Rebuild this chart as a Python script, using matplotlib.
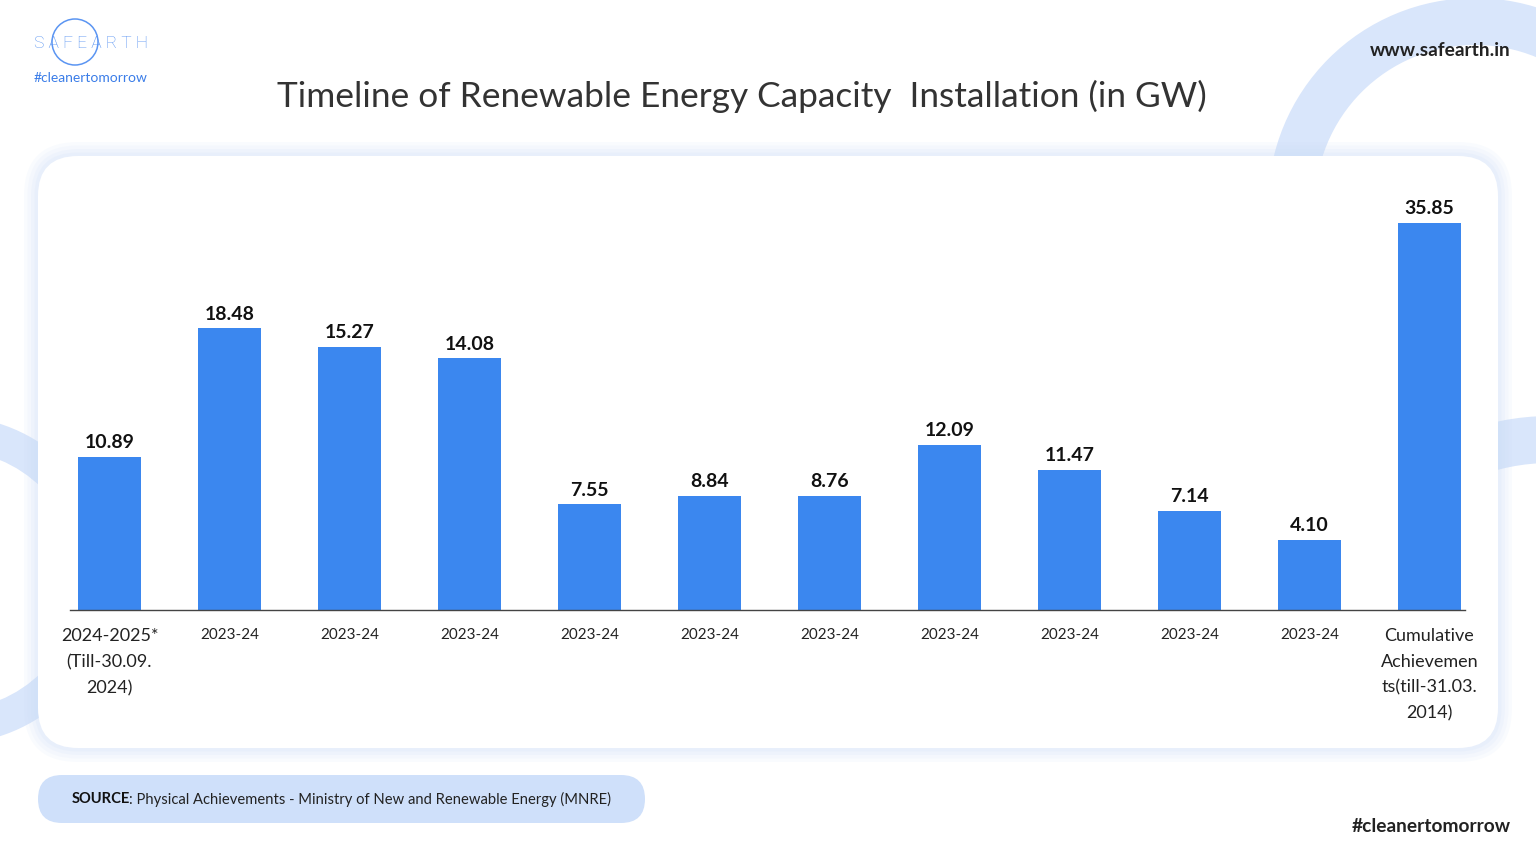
import matplotlib
matplotlib.use("Agg")
import matplotlib.pyplot as plt
from matplotlib.patches import FancyBboxPatch, Wedge, Circle

plt.rcParams['font.family'] = ['Lato', 'DejaVu Sans']

# data
categories = ["2024-2025*\n(Till-30.09.\n2024)", "2023-24", "2023-24", "2023-24", "2023-24",
              "2023-24", "2023-24", "2023-24", "2023-24", "2023-24", "2023-24",
              "Cumulative\nAchievemen\nts(till-31.03.\n2014)"]
value_labels = ["10.89", "18.48", "15.27", "14.08", "7.55", "8.84", "8.76",
                "12.09", "11.47", "7.14", "4.10", "35.85"]
# the bars in the source are not drawn to the printed values,
# so these are the heights as measured (in the same GW scale as the last bar)
bar_heights = [14.2, 26.1, 24.4, 23.3, 9.8, 10.6, 10.6, 15.3, 13.0, 9.2, 6.5, 35.85]

BAR = '#3b87ef'
RING = '#d9e6fb'
W, H = 1536, 864

fig = plt.figure(figsize=(15.36, 8.64), dpi=100)
fig.patch.set_facecolor('white')

# background layer in pixel coords (y up)
bg = fig.add_axes([0, 0, 1, 1], zorder=0)
bg.set_xlim(0, W)
bg.set_ylim(0, H)
bg.axis('off')

# decorative rings
bg.add_patch(Wedge((1475, 659), 207, 0, 180, width=47, color=RING, lw=0))
bg.add_patch(Wedge((1550, 198), 250, 90, 180, width=47, color=RING, lw=0))
bg.add_patch(Wedge((-50, 284), 164, -90, 90, width=34, color=RING, lw=0))

# card glow + card
for i, a in enumerate([0.10, 0.10, 0.12, 0.14]):
    g = 14 - i * 3.5
    bg.add_patch(FancyBboxPatch((38 - g, 116 - g), 1460 + 2 * g, 592 + 2 * g,
                                boxstyle="round,pad=0,rounding_size=%d" % (40 + g),
                                fc='#c9dbf8', ec='none', alpha=a))
bg.add_patch(FancyBboxPatch((38, 116), 1460, 592, boxstyle="round,pad=0,rounding_size=40",
                            fc='white', ec='none'))

# source pill
bg.add_patch(FancyBboxPatch((38, 41), 607, 48, boxstyle="round,pad=0,rounding_size=24",
                            fc='#cfe0fa', ec='none'))
t = bg.text(72, 65, "SOURCE", fontsize=10.6, fontweight='bold', color='#111', va='center')
fig.canvas.draw()
bb = t.get_window_extent()
bg.text(bb.x1 - 1.5, 65, ": Physical Achievements - Ministry of New and Renewable Energy (MNRE)",
        fontsize=10.6, color='#222', va='center')

# logo
bg.add_patch(Circle((75, 822), 23, fill=False, ec='#5b95f2', lw=1.1))
bg.text(91, 820, "S A F E A R T H", fontsize=12.5, fontweight='light', color='#5b95f2',
        ha='center', va='center', family=['Roboto', 'DejaVu Sans'])
bg.text(91, 786, "#cleanertomorrow", fontsize=10, color='#3b7de8', ha='center', va='center')

bg.text(1511, 814, "www.safearth.in", fontsize=13.8, fontweight='bold', color='#222',
        ha='right', va='center')
bg.text(1511, 38, "#cleanertomorrow", fontsize=13.8, fontweight='bold', color='#222',
        ha='right', va='center')

bg.text(742, 768, "Timeline of Renewable Energy Capacity  Installation (in GW)",
        fontsize=25.4, color='#333', ha='center', va='center')

# chart
ymax = 40
ax = fig.add_axes([70 / W, 254 / H, 1395 / W, 387 * ymax / 35.85 / H], zorder=1)
ax.patch.set_alpha(0)
x = range(len(categories))
bars = ax.bar(x, bar_heights, width=0.533, color=BAR)
for b, lab in zip(bars, value_labels):
    ax.annotate(lab, (b.get_x() + b.get_width() / 2, b.get_height()), xytext=(0, 4),
                textcoords='offset points', ha='center', va='bottom',
                fontsize=14, fontweight='bold', color='#111')
ax.set_xlim(-0.329, 11.296)
ax.set_ylim(0, ymax)
ax.set_xticks(list(x), categories)
ax.tick_params(axis='x', length=0, pad=13, labelsize=11, labelcolor='#222')
for i, tl in enumerate(ax.get_xticklabels()):
    tl.set_linespacing(1.75)
    if i in (0, len(categories) - 1):
        tl.set_fontsize(13)
ax.set_yticks([])
for s in ['top', 'left', 'right']:
    ax.spines[s].set_visible(False)
ax.spines['bottom'].set_color('#444')
ax.spines['bottom'].set_linewidth(1)

fig.savefig("out.png", dpi=100)
